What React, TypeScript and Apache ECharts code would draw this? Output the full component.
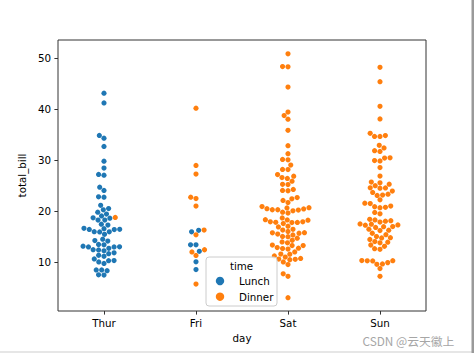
import React, { useEffect, useRef } from 'react';
import * as echarts from 'echarts';

const days = ['Thur', 'Fri', 'Sat', 'Sun'];
const times = ['Lunch', 'Dinner'];
const yTicks = [10, 20, 30, 40, 50];
const colors = ['#1f77b4', '#ff7f0e'];

// total_bill values per day, in the data's row order
const thurLunch = [27.2, 22.76, 17.29, 19.44, 16.66, 10.07, 32.68, 15.98, 34.83, 13.03, 18.28, 24.71, 21.16,
  10.65, 12.43, 24.08, 11.69, 13.42, 14.26, 15.95, 12.48, 29.8, 8.52, 14.52, 11.38, 22.82, 19.08, 20.27, 11.17,
  12.26, 18.26, 8.51, 10.33, 14.15, 16.0, 13.16, 17.47, 34.3, 41.19, 27.05, 16.43, 8.35, 18.64, 11.87, 9.78, 7.51,
  19.81, 28.44, 15.48, 16.58, 7.56, 10.34, 43.11, 13.0, 13.51, 18.71, 12.74, 13.0, 16.4, 20.53, 16.47];
const thurDinner = [18.78];
const friDinner = [28.97, 22.49, 5.75, 16.32, 22.75, 40.17, 27.28, 12.03, 21.01, 12.46, 11.35, 15.38];
const friLunch = [12.16, 13.42, 8.58, 15.98, 13.42, 16.27, 10.09];
const satDinner = [20.65, 17.92, 20.29, 15.77, 39.42, 19.82, 17.81, 13.37, 12.69, 21.7, 19.65, 9.55, 18.35, 15.06,
  20.69, 17.78, 24.06, 16.31, 16.93, 18.69, 31.27, 16.04,
  38.01, 26.41, 11.24, 48.27, 20.29, 13.81, 11.02, 18.29, 17.59, 20.08, 16.45, 3.07, 20.23, 15.01, 12.02, 17.07,
  26.86, 25.28, 14.73, 10.51, 17.92,
  44.3, 22.42, 20.92, 15.36, 20.49, 25.21, 18.24, 14.31, 14.0, 7.25,
  10.59, 10.63, 50.81, 15.81,
  26.59, 38.73, 24.27, 12.76, 30.06, 25.89, 48.33, 13.27, 28.17, 12.9, 28.15, 11.59, 7.74, 30.14,
  20.45, 13.28, 22.12, 24.01, 15.69, 11.61, 10.77, 15.53, 10.07, 12.6, 32.83, 35.83, 29.03, 27.18, 22.67, 17.82];
const sunDinner = [16.99, 10.34, 21.01, 23.68, 24.59, 25.29, 8.77, 26.88, 15.04, 14.78, 10.27, 35.26, 15.42, 18.43,
  14.83, 21.58, 10.33, 16.29, 16.97,
  17.46, 13.94, 9.68, 30.4, 18.29, 22.23, 32.4, 28.55, 18.04, 12.54, 10.29, 34.81, 9.94, 25.56, 19.49,
  38.07, 23.95, 25.71, 17.31, 29.93,
  14.07, 13.13, 17.26, 24.55, 19.77, 29.85, 48.17, 25.0, 13.39, 16.49, 21.5, 12.66, 16.21, 13.81, 17.51, 24.52,
  20.76, 31.71,
  7.25, 31.85, 16.82, 32.9, 17.89, 14.48, 9.6, 34.63, 34.65, 23.33, 45.35, 23.17, 40.55, 20.69, 20.9, 30.46, 18.15,
  23.1, 15.69];

// groups per day: [values, timeIndex] in row order
const dayGroups: { vals: number[]; time: number }[][] = [
  [{ vals: thurLunch, time: 0 }, { vals: thurDinner, time: 1 }],
  [{ vals: friDinner, time: 1 }, { vals: friLunch, time: 0 }],
  [{ vals: satDinner, time: 1 }],
  [{ vals: sunDinner, time: 1 }],
];

const Y_MIN = 0.47;
const Y_MAX = 53.52;
const GRID = { left: 58, top: 40, width: 368, height: 271 };
const R = 2.6;

function beeswarm(values: number[], pxPerUnit: number, r: number): number[] {
  const n = values.length;
  const idx = values.map((_, i) => i).sort((a, b) => values[a] - values[b]);
  const px: number[] = [];
  const py: number[] = [];
  const out = new Array(n).fill(0);
  const d2 = 4 * r * r;
  for (let k = 0; k < n; k++) {
    const y = values[idx[k]] * pxPerUnit;
    const nb: number[] = [];
    for (let j = k - 1; j >= 0; j--) {
      if (y - py[j] < 2 * r) nb.push(j);
      else break;
    }
    let x = 0;
    if (nb.length) {
      const cands: number[] = [0];
      let leftFirst = true;
      for (const j of nb) {
        const dy = y - py[j];
        const dx = Math.sqrt(Math.max(d2 - dy * dy, 0)) * 1.05;
        const cl = px[j] - dx;
        const cr = px[j] + dx;
        if (leftFirst) cands.push(cl, cr);
        else cands.push(cr, cl);
        leftFirst = !leftFirst;
      }
      const order = cands.map((_, i) => i).sort((a, b) => Math.abs(cands[a]) - Math.abs(cands[b]));
      for (const ci of order) {
        const cx = cands[ci];
        let ok = true;
        for (const j of nb) {
          const ddx = px[j] - cx;
          const ddy = py[j] - y;
          if (ddx * ddx + ddy * ddy < d2 - 1e-9) { ok = false; break; }
        }
        if (ok) { x = cx; break; }
      }
    }
    px.push(x);
    py.push(y);
    out[idx[k]] = x;
  }
  return out;
}

function buildSeriesData() {
  const pxPerUnit = GRID.height / (Y_MAX - Y_MIN);
  const perTime: number[][][] = [[], []];
  dayGroups.forEach((groups, di) => {
    const all: number[] = [];
    const tIdx: number[] = [];
    groups.forEach((g) => g.vals.forEach((v) => { all.push(v); tIdx.push(g.time); }));
    const offs = beeswarm(all, pxPerUnit, R);
    all.forEach((v, i) => perTime[tIdx[i]].push([di, v, offs[i]]));
  });
  return perTime;
}

const FONT = 'DejaVu Sans';

export default function App() {
  const ref = useRef<HTMLDivElement>(null);
  useEffect(() => {
    document.body.style.margin = '0';
    const chart = echarts.init(ref.current!, null, { renderer: 'svg' });
    const perTime = buildSeriesData();
    const legendX = 206, legendY = 257;
    chart.setOption({
      animation: false,
      backgroundColor: '#ffffff',
      textStyle: { fontFamily: FONT },
      grid: { ...GRID, show: true, borderColor: '#333', borderWidth: 1, backgroundColor: 'transparent' },
      xAxis: {
        type: 'category',
        data: days,
        boundaryGap: true,
        axisLine: { show: false },
        axisTick: { show: true, alignWithLabel: true, length: 3.6, lineStyle: { color: '#333', width: 1 } },
        axisLabel: { color: '#000', fontSize: 10.3, fontFamily: FONT, margin: 7 },
        splitLine: { show: false },
        name: 'day',
        nameLocation: 'middle',
        nameGap: 21,
        nameTextStyle: { color: '#000', fontSize: 10.3, fontFamily: FONT },
      },
      yAxis: {
        type: 'value',
        min: Y_MIN,
        max: Y_MAX,
        axisLine: { show: false },
        axisTick: { show: true, length: 3.6, customValues: yTicks, lineStyle: { color: '#333', width: 1 } },
        axisLabel: { color: '#000', fontSize: 10.3, fontFamily: FONT, margin: 7, customValues: yTicks },
        splitLine: { show: false },
        name: 'total_bill',
        nameLocation: 'middle',
        nameRotate: 90,
        nameGap: 25,
        nameTextStyle: { color: '#000', fontSize: 10.3, fontFamily: FONT },
      },
      series: times.map((t, ti) => ({
        type: 'custom',
        name: t,
        data: perTime[ti],
        encode: { x: 0, y: 1 },
        renderItem: (_params: any, api: any) => {
          const p = api.coord([api.value(0), api.value(1)]);
          return {
            type: 'circle',
            shape: { cx: p[0] + Number(api.value(2)), cy: p[1], r: R },
            style: { fill: colors[ti] },
          };
        },
      })),
      graphic: [
        {
          type: 'rect', z: 100,
          shape: { x: legendX, y: legendY, width: 71, height: 49, r: 3 },
          style: { fill: 'rgba(255,255,255,0.8)', stroke: '#cccccc', lineWidth: 1 },
        },
        {
          type: 'text', z: 101, x: legendX + 35.5, y: legendY + 9,
          style: { text: 'time', fill: '#000', font: `10.3px "${FONT}"`, align: 'center', verticalAlign: 'middle' },
        },
        ...times.flatMap((t, ti) => [
          {
            type: 'circle', z: 101,
            shape: { cx: legendX + 14, cy: legendY + 24 + ti * 15.7, r: 4.2 },
            style: { fill: colors[ti] },
          },
          {
            type: 'text', z: 101, x: legendX + 33, y: legendY + 24 + ti * 15.7,
            style: { text: t, fill: '#000', font: `10.3px "${FONT}"`, align: 'left', verticalAlign: 'middle' },
          },
        ]),
        {
          type: 'text', z: 101, x: 362.5, y: 340.5,
          style: { text: 'CSDN @云天徽上', fill: '#a6a6a6', font: '11.8px "Noto Sans CJK SC"', align: 'left', verticalAlign: 'middle' },
        },
        {
          type: 'rect', z: 101,
          shape: { x: 471.5, y: 0, width: 2.5, height: 353 },
          style: { fill: '#9a9a9a' },
        },
        {
          type: 'rect', z: 100,
          shape: { x: 0, y: 351, width: 474, height: 2 },
          style: { fill: '#e6e6e6' },
        },
      ],
    });
    return () => chart.dispose();
  }, []);
  return <div ref={ref} style={{ position: 'absolute', left: 0, top: 0, width: 474, height: 353 }} />;
}
